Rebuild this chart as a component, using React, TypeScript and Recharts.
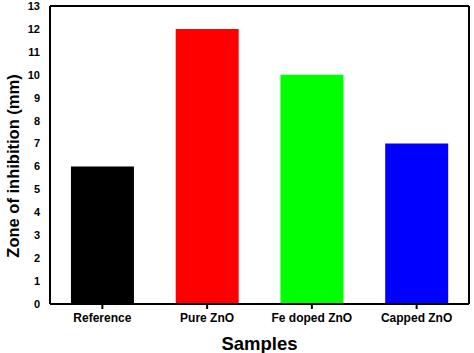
import { Bar, BarChart, Cell, XAxis, YAxis, Label } from "recharts";

const samples = ["Reference", "Pure ZnO", "Fe doped ZnO", "Capped ZnO"];
const zone = [6, 12, 10, 7];
const barColors = ["#000000", "#ff0000", "#00ff00", "#0000ff"];
const yTicks = [0, 1, 2, 3, 4, 5, 6, 7, 8, 9, 10, 11, 12, 13];
const boundaryTicks = [1, 2, 3];

const data = samples.map((name, i) => ({ name, zone: zone[i], pos: i + 0.5 }));

const FONT = "'Liberation Sans', Arial, sans-serif";

const YTitle = ({ viewBox }: any) => {
  const cx = viewBox.x + 13;
  const cy = viewBox.y + viewBox.height / 2 + 11;
  return (
    <text
      x={cx}
      y={cy}
      transform={`rotate(-90, ${cx}, ${cy})`}
      textAnchor="middle"
      dominantBaseline="central"
      style={{ fill: "#000", fontSize: 16.5, fontWeight: "bold", fontFamily: FONT }}
    >
      Zone of inhibition (mm)
    </text>
  );
};

export default function App() {
  return (
    <div style={{ position: "absolute", left: 0, top: 0, background: "#fff" }}>
      <BarChart
        width={474}
        height={353}
        data={data}
        margin={{ top: 5, right: 4, bottom: 0, left: 0 }}
        barCategoryGap="20%"
      >
        <XAxis xAxisId="top" orientation="top" dataKey="name" height={1} tick={false} tickLine={false} axisLine={{ stroke: "#000", strokeWidth: 2 }} />
        <XAxis
          xAxisId="minor"
          type="number"
          dataKey="pos"
          domain={[0, 4]}
          ticks={boundaryTicks}
          tick={false}
          axisLine={false}
          tickLine={{ stroke: "#000", strokeWidth: 2 }}
          tickSize={4}
          height={1}
        />
        <XAxis
          xAxisId="main"
          dataKey="name"
          height={48}
          axisLine={{ stroke: "#000", strokeWidth: 2 }}
          tickLine={{ stroke: "#000", strokeWidth: 2 }}
          tickSize={5}
          tickMargin={4}
          tick={{ fill: "#000", fontSize: 12, fontWeight: "bold", fontFamily: FONT }}
        >
          <Label
            value="Samples"
            position="insideBottom"
            offset={2}
            style={{ fill: "#000", fontSize: 18.5, fontWeight: "bold", fontFamily: FONT }}
          />
        </XAxis>
        <YAxis
          domain={[0, 13]}
          ticks={yTicks}
          interval={0}
          width={50}
          axisLine={{ stroke: "#000", strokeWidth: 2 }}
          tickLine={false}
          tickSize={5}
          tickMargin={5}
          tick={{ fill: "#000", fontSize: 11, fontWeight: "bold", fontFamily: FONT }}
        >
          <Label content={YTitle} />
        </YAxis>
        <YAxis yAxisId="right" orientation="right" domain={[0, 13]} width={1} tick={false} tickLine={false} axisLine={{ stroke: "#000", strokeWidth: 2 }} />
        <Bar dataKey="zone" xAxisId="main" isAnimationActive={false}>
          {data.map((d, i) => (
            <Cell key={d.name} fill={barColors[i]} />
          ))}
        </Bar>
      </BarChart>
    </div>
  );
}
